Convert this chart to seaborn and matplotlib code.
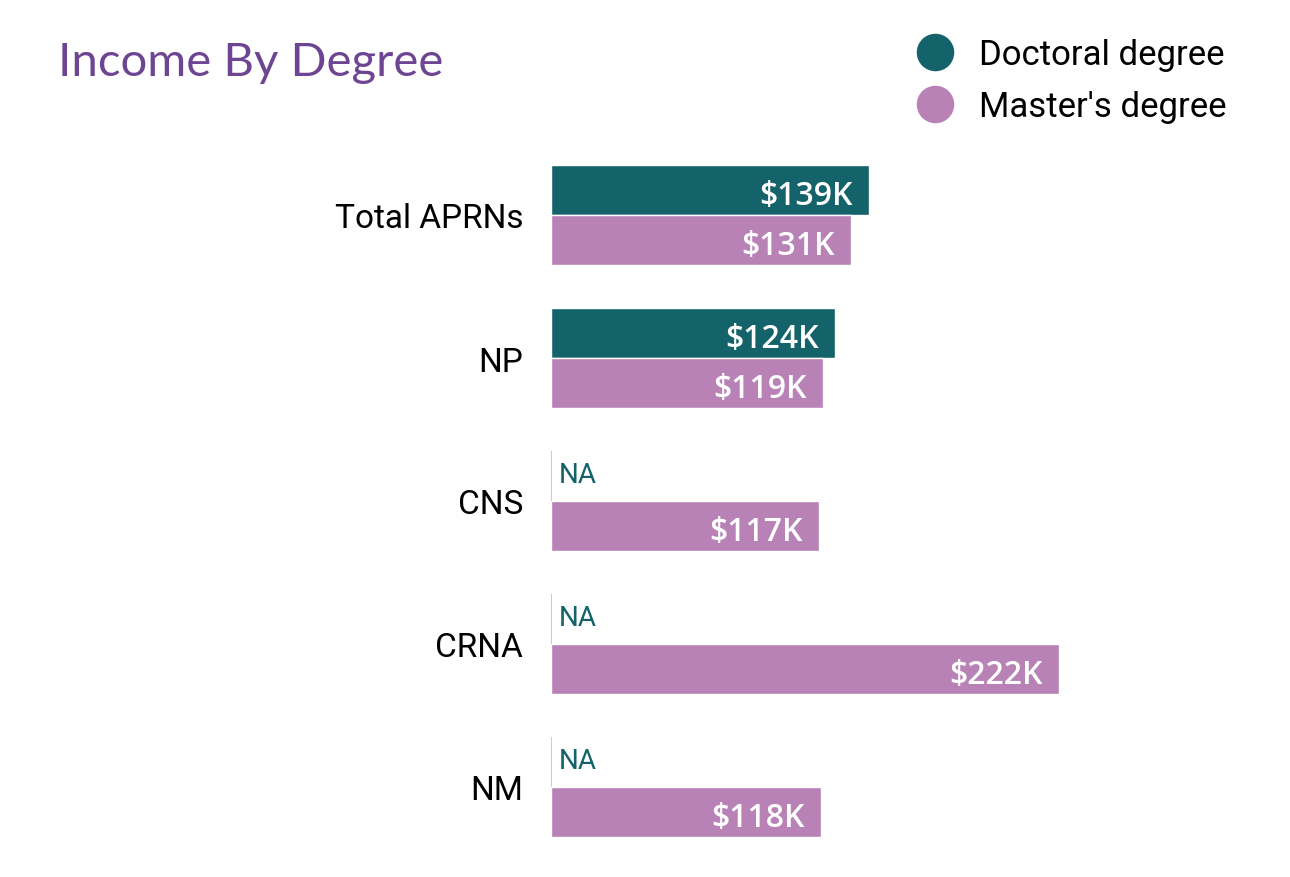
import numpy as np
import pandas as pd
import seaborn as sns
import matplotlib.pyplot as plt
from matplotlib.lines import Line2D

# data (thousands of USD), None = not available
roles = ['Total APRNs', 'NP', 'CNS', 'CRNA', 'NM']
doctoral = [139, 124, None, None, None]
masters = [131, 119, 117, 222, 118]
degrees = ['Doctoral degree', "Master's degree"]

teal = '#14636B'
pink = '#B882B7'
purple = '#6E4592'

df = pd.DataFrame({
    'role': roles * 2,
    'degree': [degrees[0]] * len(roles) + [degrees[1]] * len(roles),
    'income': [0 if v is None else v for v in doctoral] + masters,
})

sns.set_theme(style='white')
plt.rcParams['font.family'] = ['Roboto', 'DejaVu Sans']
plt.rcParams['text.color'] = 'black'

fig = plt.figure(figsize=(12.9, 8.78), dpi=100)
ax = fig.add_axes([551 / 1290, 1 - 859.5 / 878, 549 / 1290, 715 / 878])

sns.barplot(data=df, y='role', x='income', hue='degree', order=roles,
            hue_order=degrees, palette=[teal, pink], width=0.7,
            orient='h', ax=ax, legend=False, saturation=1)

ax.set_xlim(0, 240)
ax.set_ylim(4.5, -0.5)
sns.despine(ax=ax, left=True, bottom=True)
ax.set_xticks([])
ax.set_xlabel('')
ax.set_ylabel('')
ax.tick_params(axis='y', length=0, pad=20, labelsize=24)
for lab in ax.get_yticklabels():
    lab.set_color('black')

# value labels
for i, cont in enumerate(ax.containers):
    vals = doctoral if i == 0 else masters
    for bar, v in zip(cont.patches, vals):
        yc = bar.get_y() + bar.get_height() / 2
        if v is None:
            ax.vlines(0, bar.get_y(), bar.get_y() + bar.get_height(),
                      color='#A9CCD0', lw=1.2)
            ax.text(3.5, yc - 0.01, 'NA', color=teal, fontsize=20,
                    va='center', ha='left', family=['Roboto', 'DejaVu Sans'])
        else:
            ax.text(v - 7, yc + 0.04, '$%dK' % v, color='white',
                    fontsize=23, fontweight='semibold', va='center',
                    ha='right', family=['Open Sans', 'DejaVu Sans'])

fig.text(58 / 1290, 1 - 63 / 878, 'Income By Degree', color=purple,
         fontsize=34, va='center', ha='left',
         family=['Lato', 'DejaVu Sans'])

handles = [Line2D([], [], marker='o', ls='', markersize=26, color=c)
           for c in [teal, pink]]
fig.legend(handles, degrees, loc='upper right',
           bbox_to_anchor=(1240 / 1290, 1 - 25 / 878), frameon=False,
           fontsize=25, handletextpad=0.25, labelspacing=0.55,
           borderaxespad=0, labelcolor='black')

fig.savefig('out.png', dpi=100, facecolor='white')
